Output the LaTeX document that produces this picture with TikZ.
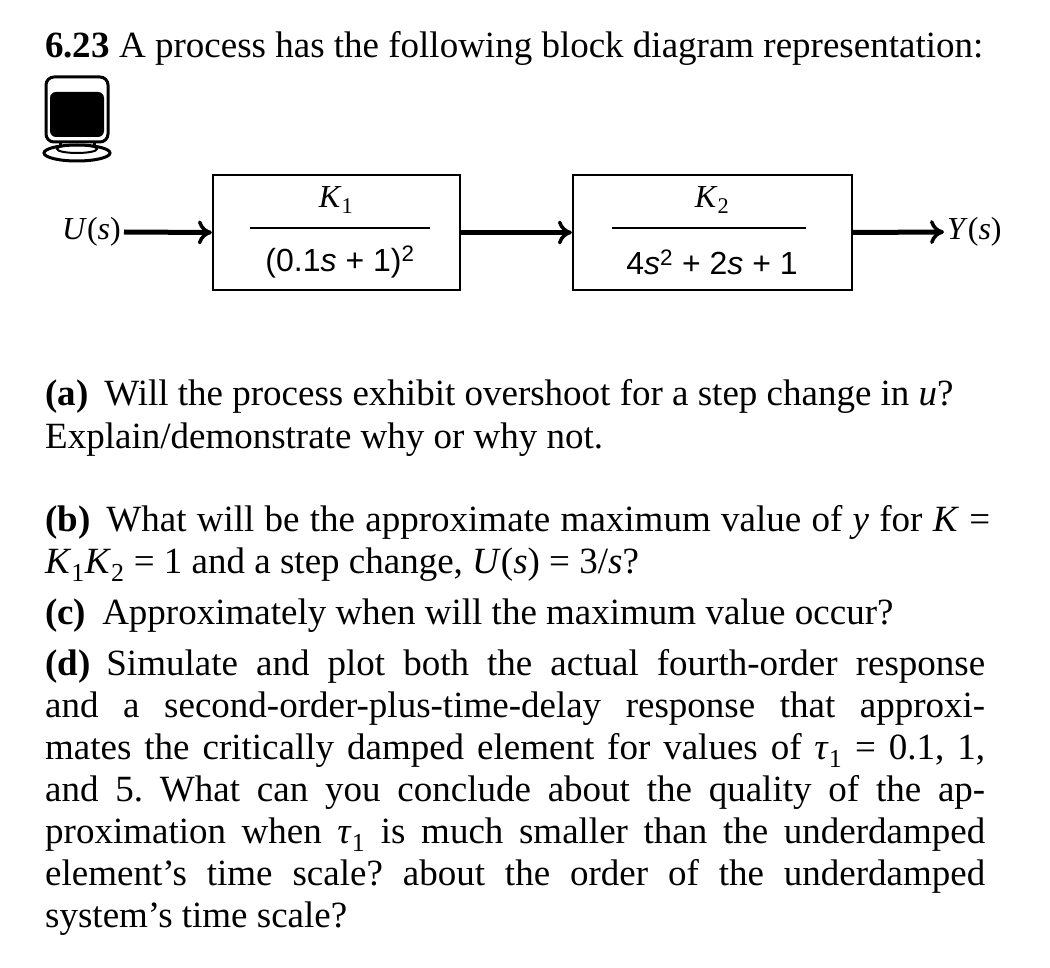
\documentclass[tikz,border=0pt]{standalone}
\usepackage{fontspec}
\usetikzlibrary{arrows.meta}
\setmainfont{Liberation Serif}
\newfontfamily\blk{Liberation Sans}
\frenchspacing
\begin{document}
\begin{tikzpicture}[x=1pt,y=-1pt,
  txt/.style={anchor=base west,inner sep=0pt,font=\fontsize{37}{42}\selectfont},
  bf/.style={font=\fontsize{32}{36}\selectfont},
  blockbox/.style={draw,line width=2.2pt,minimum width=#1,minimum height=115pt,inner sep=0pt},
  arr/.style={line width=5pt,-{To[length=14pt,width=24pt,line width=3.5pt]}}]
\useasboundingbox (0,0) rectangle (1050,968);
% title
\node[txt] (title) at (45,58) {\textbf{6.23} A process has the following block diagram representation:};
% icon
\draw[line width=3pt,rounded corners=8pt] (46,77) rectangle (108,142);
\fill[rounded corners=6pt] (50,92) rectangle (104,137);
\draw[line width=3pt] (60,142) -- (60,147) (94,142) -- (94,147);
\draw[line width=3pt] (77,153) ellipse (33 and 8);
\draw[line width=2pt] (77,149) ellipse (20 and 4);
% blocks
\node[blockbox=247pt] (b1) at (336.5,232.5) {};
\node[blockbox=279pt] (b2) at (712.5,232.5) {};
\draw[line width=1.5pt] (250,228) -- (430,228) (612,228) -- (806,228);
\node[bf] (n1) at (336,200) {\textit{K}\textsubscript{1}};
\node[bf] (d1) at (340,262) {\blk(0.1\textit{s} + 1)\textsuperscript{2}};
\node[bf] (n2) at (712,200) {\textit{K}\textsubscript{2}};
\node[bf] (d2) at (712,262) {\blk4\textit{s}\textsuperscript{2} + 2\textit{s} + 1};
\node[bf,anchor=east,inner sep=3pt] (u) at (124,232) {\textit{U}(\textit{s})};
\node[bf,anchor=west,inner sep=3pt] (y) at (944,232) {\textit{Y}(\textit{s})};
\draw[arr] (u.east) -- (b1.west);
\draw[arr] (b1.east) -- (b2.west);
\draw[arr] (b2.east) -- (y.west);
% questions
\node[txt] (a1) at (45,406) {\textbf{(a)}\hspace{16pt}Will the process exhibit overshoot for a step change in \textit{u}?};
\node[txt] (a2) at (45,448) {Explain/demonstrate why or why not.};
\node[txt] (b1t) at (45,531) {\makebox[945pt][s]{\textbf{(b)}\hspace{16pt}What will be the approximate maximum value of \textit{y} for \textit{K} =}};
\node[txt] (b2t) at (45,573) {\textit{K}\textsubscript{1}\textit{K}\textsubscript{2} = 1 and a step change, \textit{U}(\textit{s}) = 3/\textit{s}?};
\node[txt] (c1) at (45,624) {\textbf{(c)}\hspace{16pt}Approximately when will the maximum value occur?};
\node[txt] (d1t) at (45,675) {\makebox[940pt][s]{\textbf{(d)}\hspace{16pt}Simulate and plot both the actual fourth-order response}};
\node[txt] (d2t) at (45,717) {\makebox[940pt][s]{and a second-order-plus-time-delay response that approxi-}};
\node[txt] (d3t) at (45,759) {\makebox[940pt][s]{mates the critically damped element for values of \textit{τ}\textsubscript{1} = 0.1, 1,}};
\node[txt] (d4t) at (45,801) {\makebox[940pt][s]{and 5. What can you conclude about the quality of the ap-}};
\node[txt] (d5t) at (45,843) {\makebox[940pt][s]{proximation when \textit{τ}\textsubscript{1} is much smaller than the underdamped}};
\node[txt] (d6t) at (45,885) {\makebox[940pt][s]{element's time scale? about the order of the underdamped}};
\node[txt] (d7t) at (45,927) {system's time scale?};
\end{tikzpicture}
\end{document}
